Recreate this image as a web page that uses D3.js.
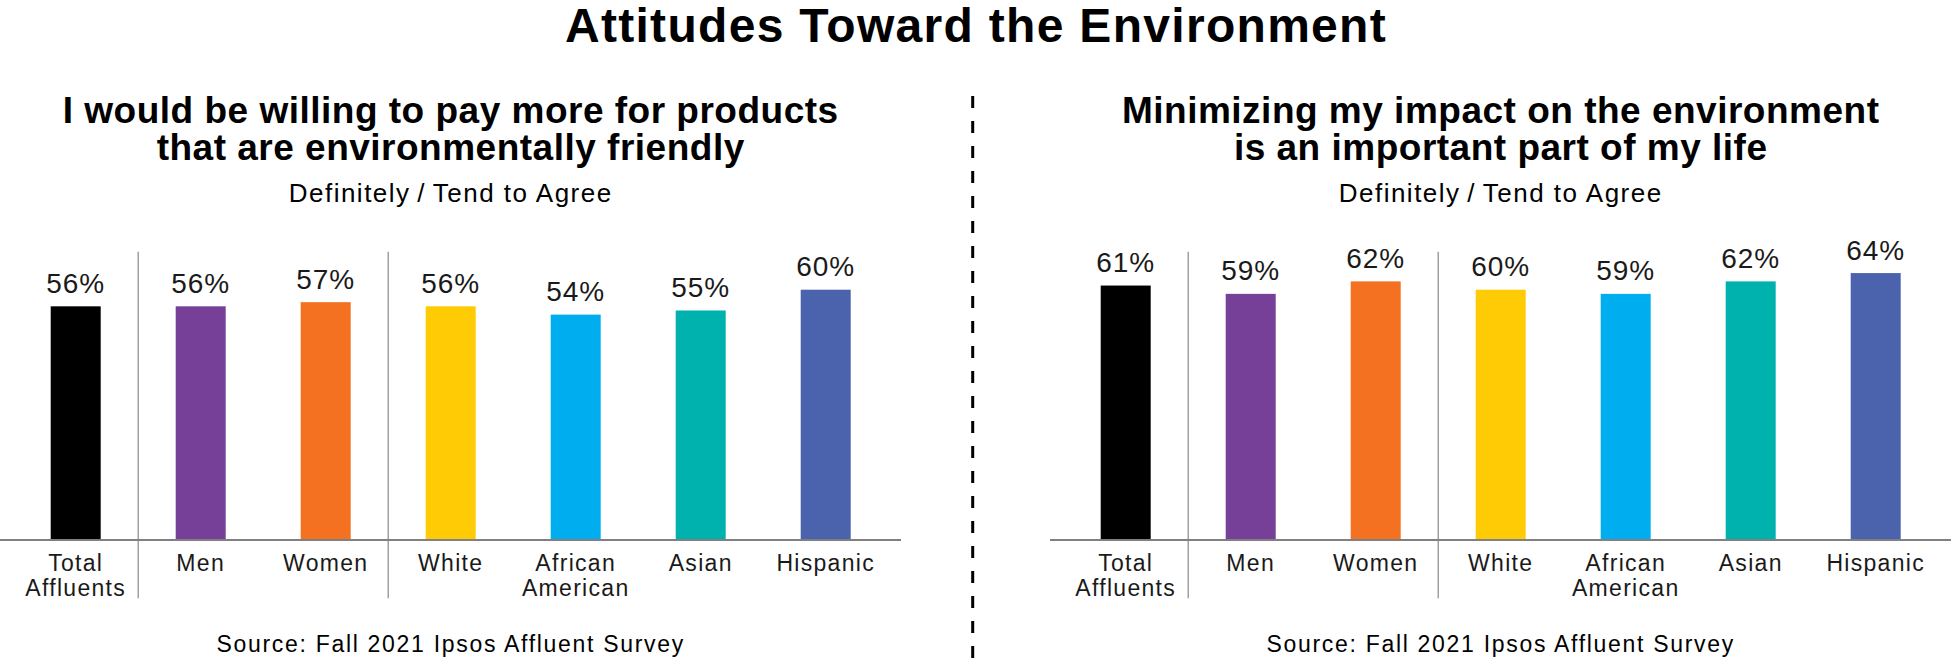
<!DOCTYPE html>
<html>
<head>
    <meta charset="UTF-8">
    <title>Attitudes Toward the Environment</title>
    <script src="https://cdn.jsdelivr.net/npm/d3@7"></script>
    <style>
        body {
            margin: 0;
            padding: 0;
            background: #fff;
            font-family: 'Liberation Sans', Arial, Helvetica, sans-serif;
        }
        svg { display: block; }
        .heading { font-weight: bold; fill: #000; }
        .value { fill: #1a1a1a; }
        .tick text { fill: #1a1a1a; }
    </style>
</head>
<body>
<div id="chart"></div>

<script>
    // categories (with their line breaks for the axis)
    const categories = ["Total Affluents", "Men", "Women", "White", "African American", "Asian", "Hispanic"];
    const tickLines = [["Total", "Affluents"], ["Men"], ["Women"], ["White"], ["African", "American"], ["Asian"], ["Hispanic"]];

    // % Definitely / Tend to Agree
    const payMoreValues = [56, 56, 57, 56, 54, 55, 60];
    const minimizeValues = [61, 59, 62, 60, 59, 62, 64];

    const barColors = ["#000000", "#763f98", "#f37121", "#ffcb05", "#00aeef", "#00b2ae", "#4b63ad"];

    const panels = [
        { title: ["I would be willing to pay more for products", "that are environmentally friendly"], values: payMoreValues, offset: 0 },
        { title: ["Minimizing my impact on the environment", "is an important part of my life"], values: minimizeValues, offset: 1050 }
    ];

    const width = 1951, height = 660;

    const svg = d3.select("#chart").append("svg")
        .attr("width", width)
        .attr("height", height);

    // main title
    svg.append("text")
        .attr("class", "heading")
        .attr("x", 976)
        .attr("y", 42)
        .attr("text-anchor", "middle")
        .style("font-size", "48px")
        .style("letter-spacing", "1.3px")
        .text("Attitudes Toward the Environment");

    // dashed separator between the two charts
    svg.append("line")
        .attr("x1", 972.7).attr("x2", 972.7)
        .attr("y1", 96).attr("y2", 660)
        .attr("stroke", "#000")
        .attr("stroke-width", 3)
        .attr("stroke-dasharray", "12,13");

    const x = d3.scaleBand()
        .domain(categories)
        .range([13.2, 888.2])
        .paddingInner(0.6)
        .paddingOuter(0.3);

    const y = d3.scaleLinear()
        .domain([0, 100])
        .range([539, 123.5]);

    panels.forEach(p => {
        const g = svg.append("g").attr("transform", "translate(" + p.offset + ",0)");
        const cx = (x.range()[0] + x.range()[1]) / 2;

        // subtitle, two lines
        g.append("text")
            .attr("class", "heading")
            .attr("text-anchor", "middle")
            .style("font-size", "37px")
            .style("letter-spacing", "0.5px")
            .selectAll("tspan")
            .data(p.title)
            .enter().append("tspan")
            .attr("x", cx)
            .attr("y", (d, i) => 122.7 + i * 37.5)
            .text(d => d);

        g.append("text")
            .attr("x", cx)
            .attr("y", 202)
            .attr("text-anchor", "middle")
            .style("font-size", "26px")
            .style("letter-spacing", "1.5px")
            .text("Definitely\u2009/\u2009Tend to Agree");

        // group separators (after Total, after Women)
        const gap = x.step() - x.bandwidth();
        g.selectAll(".sep")
            .data([categories[1], categories[3]])
            .enter().append("line")
            .attr("class", "sep")
            .attr("x1", d => x(d) - gap / 2)
            .attr("x2", d => x(d) - gap / 2)
            .attr("y1", 251.7)
            .attr("y2", 598.3)
            .attr("stroke", "#8a8a8a")
            .attr("stroke-width", 1.2);

        // bars
        g.selectAll(".bar")
            .data(p.values)
            .enter().append("rect")
            .attr("class", "bar")
            .attr("x", (d, i) => x(categories[i]))
            .attr("y", d => y(d))
            .attr("width", x.bandwidth())
            .attr("height", d => y(0) - y(d))
            .attr("fill", (d, i) => barColors[i]);

        // value labels
        g.selectAll(".value")
            .data(p.values)
            .enter().append("text")
            .attr("class", "value")
            .attr("x", (d, i) => x(categories[i]) + x.bandwidth() / 2)
            .attr("y", d => y(d) - 13.4)
            .attr("text-anchor", "middle")
            .style("font-size", "28px")
            .style("letter-spacing", "1px")
            .text(d => d + "%");

        // baseline
        g.append("line")
            .attr("x1", 0)
            .attr("x2", 901)
            .attr("y1", y(0) + 1)
            .attr("y2", y(0) + 1)
            .attr("stroke", "#808080")
            .attr("stroke-width", 2);

        // category axis
        const axis = g.append("g")
            .attr("transform", "translate(0," + y(0) + ")")
            .call(d3.axisBottom(x).tickSize(0));
        axis.select(".domain").remove();
        axis.selectAll(".tick text").each(function (d, i) {
            const t = d3.select(this);
            t.text(null)
                .attr("y", 0)
                .attr("dy", null)
                .style("font-size", "23px")
                .style("letter-spacing", "1.3px")
                .style("font-family", "'Liberation Sans', Arial, sans-serif");
            tickLines[i].forEach((line, k) => {
                t.append("tspan")
                    .attr("x", 0)
                    .attr("y", 32 + k * 25)
                    .text(line);
            });
        });

        // source
        g.append("text")
            .attr("x", cx)
            .attr("y", 652)
            .attr("text-anchor", "middle")
            .style("font-size", "23px")
            .style("letter-spacing", "1.7px")
            .text("Source: Fall 2021 Ipsos Affluent Survey");
    });
</script>
</body>
</html>
